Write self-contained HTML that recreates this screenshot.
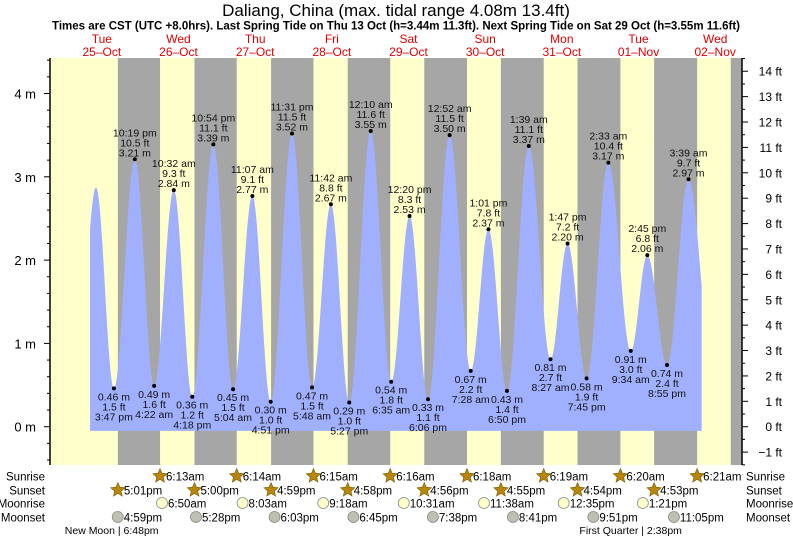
<!DOCTYPE html>
<html><head><meta charset="utf-8"><style>
body{margin:0;background:#fff;}
svg{display:block;font-family:"Liberation Sans",sans-serif;}
</style></head><body>
<svg id="chart" width="793" height="539" viewBox="0 0 793 539" xmlns="http://www.w3.org/2000/svg">
<text x="396" y="16" text-anchor="middle" font-size="17" fill="#000">Daliang, China (max. tidal range 4.08m 13.4ft)</text>
<text x="396" y="29.5" text-anchor="middle" font-size="11.5" font-weight="bold" fill="#000">Times are CST (UTC +8.0hrs). Last Spring Tide on Thu 13 Oct (h=3.44m 11.3ft). Next Spring Tide on Sat 29 Oct (h=3.55m 11.6ft)</text>
<g id="bands"></g><g id="tide"></g><g id="axes"></g><g id="labels"></g><g id="days"></g><g id="astro"></g>
</svg>
<script>
const NS='http://www.w3.org/2000/svg';
// ---- data ----
const dayNames=['Tue','Wed','Thu','Fri','Sat','Sun','Mon','Tue','Wed'];
const dayDates=['25-Oct','26-Oct','27-Oct','28-Oct','29-Oct','30-Oct','31-Oct','01-Nov','02-Nov'];
// tide extrema: hours since 25-Oct 00:00
const tideHours=[4.0,10.17,15.78,22.32,28.37,34.53,40.30,46.90,53.07,59.12,64.85,71.52,77.80,83.70,89.45,96.17,102.58,108.33,114.10,120.87,127.47,133.02,138.83,145.65,152.45,157.78,163.75,170.55,177.57,182.75,188.92,195.65,203.0];
const tideMeters=[0.5,2.87,0.46,3.21,0.49,2.84,0.36,3.39,0.45,2.77,0.30,3.52,0.47,2.67,0.29,3.55,0.54,2.53,0.33,3.50,0.67,2.37,0.43,3.37,0.81,2.20,0.58,3.17,0.91,2.06,0.74,2.97,0.8];
const tideTimes=['','','3:47 pm','10:19 pm','4:22 am','10:32 am','4:18 pm','10:54 pm','5:04 am','11:07 am','4:51 pm','11:31 pm','5:48 am','11:42 am','5:27 pm','12:10 am','6:35 am','12:20 pm','6:06 pm','12:52 am','7:28 am','1:01 pm','6:50 pm','1:39 am','8:27 am','1:47 pm','7:45 pm','2:33 am','9:34 am','2:45 pm','8:55 pm','3:39 am',''];
// sun: hours since 25-Oct 00:00
const sunriseHours=[30.22,54.23,78.25,102.27,126.30,150.32,174.33,198.35];
const sunriseText=['6:13am','6:14am','6:15am','6:16am','6:18am','6:19am','6:20am','6:21am'];
const sunsetHours=[17.02,41.0,64.98,88.97,112.93,136.92,160.90,184.88,208.87];
const sunsetText=['5:01pm','5:00pm','4:59pm','4:58pm','4:56pm','4:55pm','4:54pm','4:53pm',''];
const moonriseHours=[30.83,56.05,81.30,106.52,131.63,156.58,181.35];
const moonriseText=['6:50am','8:03am','9:18am','10:31am','11:38am','12:35pm','1:21pm'];
const moonsetHours=[16.98,41.47,66.05,90.75,115.63,140.68,165.85,191.08];
const moonsetText=['4:59pm','5:28pm','6:03pm','6:45pm','7:38pm','8:41pm','9:51pm','11:05pm'];
const phaseHours=[18.8,182.63];
const phaseText=['New Moon | 6:48pm','First Quarter | 2:38pm'];
// ---- scales ----
const X0=63.5, PXH=76.67/24;
const xs=h=>X0+h*PXH;
const Y0=426.7, PXM=83.3;
const ys=m=>Y0-m*PXM;
const PL=50,PR=742,PT=58,PB=465;
function el(tag,attrs,parent,txt){const e=document.createElementNS(NS,tag);for(const k in attrs)e.setAttribute(k,attrs[k]);if(txt!==undefined)e.textContent=txt;parent.appendChild(e);return e;}
const G=id=>document.getElementById(id);
// bands
const bands=G('bands');
let r=el('rect',{x:PL,y:PT,width:PR-PL,height:PB-PT,fill:'#ffffcc'},bands);


for(let i=0;i<sunsetHours.length;i++){
  const a=Math.max(PL,xs(sunsetHours[i]));
  const b=Math.min(PR,i<sunriseHours.length?xs(sunriseHours[i]):PR);
  const n=el('rect',{x:a,y:PT,width:Math.max(0,b-a),height:PB-PT,fill:'#a6a6a6'},bands);
  
  
}
// tide curve
const xStart=90,xEnd=701.7;
function tideAt(h){
  for(let i=0;i<tideHours.length-1;i++){
    if(h>=tideHours[i]&&h<=tideHours[i+1]){
      const p=(h-tideHours[i])/(tideHours[i+1]-tideHours[i]);
      const a=tideMeters[i],b=tideMeters[i+1];
      return a+(b-a)*(1-Math.cos(Math.PI*p))/2;
    }
  }
  return tideMeters[tideMeters.length-1];
}
let d=`M${xStart},${ys(-0.05)}`;
for(let x=xStart;x<=xEnd;x+=0.5){d+=` L${x},${ys(tideAt((x-X0)/PXH)).toFixed(2)}`;}
d+=` L${xEnd},${ys(tideAt((xEnd-X0)/PXH)).toFixed(2)} L${xEnd},${ys(-0.05)} Z`;
const tp=el('path',{d:d,fill:'#a0b0ff'},G('tide'));


// axes
const ax=G('axes');
el('line',{x1:PL,y1:PT,x2:PL,y2:PB,stroke:'#000','stroke-width':1.5},ax);
el('line',{x1:PR,y1:PT,x2:PR,y2:PB,stroke:'#000','stroke-width':1.5},ax);
for(let m=-0.4;m<=4.41;m+=0.2){
  const y=ys(m);const major=Math.abs(m-Math.round(m))<0.01;
  el('line',{x1:PL-(major?6:3),y1:y,x2:PL,y2:y,stroke:'#000'},ax);
  if(major){const t=el('text',{x:36,y:y+5,'text-anchor':'end','font-size':13},ax,Math.round(m)+' m');
    
    }
}
for(let f=-1.5;f<=14.6;f+=0.5){
  const y=Y0-f*0.3048*PXM;const major=Math.abs(f-Math.round(f))<0.01;
  el('line',{x1:PR,y1:y,x2:PR+(major?6:3),y2:y,stroke:'#000'},ax);
  if(major){const t=el('text',{x:782,y:y+4.5,'text-anchor':'end','font-size':12},ax,(Math.round(f)<0?'\u22121':Math.round(f))+' ft');
    
    }
}
// tide labels
const lb=G('labels');
for(let i=0;i<tideHours.length;i++){
  if(!tideTimes[i])continue;
  const x=xs(tideHours[i]),y=ys(tideMeters[i]);
  const high=(i>0&&tideMeters[i]>tideMeters[i-1]);
  const g=el('g',{},lb);
  
  
  el('circle',{cx:x,cy:y,r:2,fill:'#000'},g);
  const ft=(tideMeters[i]*3.28084).toFixed(1)+' ft', mm=tideMeters[i].toFixed(2)+' m';
  const lines=high?[tideTimes[i],ft,mm]:[mm,ft,tideTimes[i]];
  const base=high?[y-23,y-13,y-3]:[y+12,y+22,y+32];
  for(let k=0;k<3;k++)el('text',{x:x,y:base[k],'text-anchor':'middle','font-size':10.5,fill:'#111'},g,lines[k]);
}
// day labels
const dg=G('days');
for(let i=0;i<dayNames.length;i++){
  const x=xs(i*24+12);
  const a=el('text',{x:x,y:43,'text-anchor':'middle','font-size':12,fill:'#e00000'},dg,dayNames[i]);
  
  
  const b=el('text',{x:x,y:56,'text-anchor':'middle','font-size':12,fill:'#e00000'},dg,dayDates[i].replace('-','\u2013'));
  
  
}
// astro rows
const as=G('astro');
const rows=[['Sunrise',476],['Sunset',490],['Moonrise',503],['Moonset',517]];
rows.forEach(([n,y])=>{
  const a=el('text',{x:45,y:y+4.5,'text-anchor':'end','font-size':11.5},as,n);
  
  
  const b=el('text',{x:746,y:y+4.5,'font-size':11.5},as,n);
  
  
});
function star(cx,cy){const p=[];for(let k=0;k<10;k++){const rr=k%2?3.4:7.5,a=-Math.PI/2+k*Math.PI/5;p.push((cx+rr*Math.cos(a)).toFixed(1)+','+(cy+rr*Math.sin(a)).toFixed(1));}return p.join(' ');}
function astroRow(hours,texts,y,kind){
  for(let i=0;i<hours.length;i++){
    if(!texts[i])continue;
    const x=xs(hours[i]);
    const g=el('g',{},as);
    
    
    if(kind==='sunrise'||kind==='sunset')el('polygon',{points:star(x,y),fill:'#b8860b',stroke:'#7a5a00','stroke-width':0.6},g);
    else el('circle',{cx:x,cy:y,r:5.5,fill:kind==='moonrise'?'#ffffcc':'#c0c0b0',stroke:'#888','stroke-width':0.8},g);
    el('text',{x:x+6,y:y+4.5,'font-size':11.5},g,texts[i]);
  }
}
astroRow(sunriseHours,sunriseText,476,'sunrise');
astroRow(sunsetHours,sunsetText,490,'sunset');
astroRow(moonriseHours,moonriseText,503,'moonrise');
astroRow(moonsetHours,moonsetText,517,'moonset');
for(let i=0;i<phaseHours.length;i++){
  const t=el('text',{x:xs(phaseHours[i])+35,y:534,'text-anchor':'end','font-size':10.5},as,phaseText[i]);
  
  
}
</script>
</body></html>
